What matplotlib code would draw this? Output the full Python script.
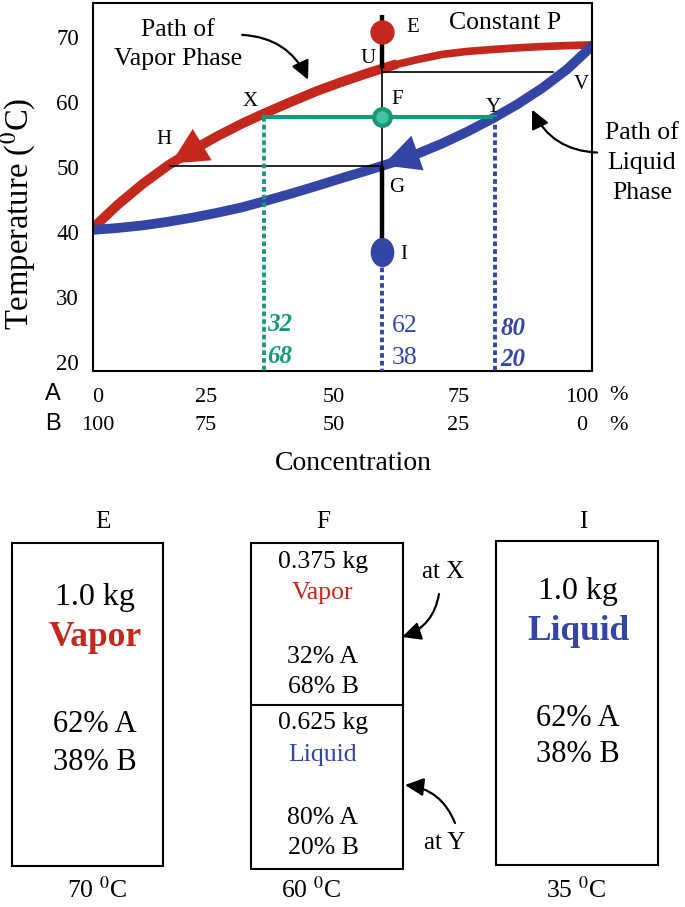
import matplotlib.pyplot as plt
import numpy as np
from matplotlib.markers import MarkerStyle
from matplotlib.patches import Rectangle
from matplotlib.transforms import Affine2D, ScaledTranslation

plt.rcParams['font.family'] = 'Liberation Serif'
plt.rcParams['mathtext.fontset'] = 'stix'

RED = '#c4281d'
BLUE = '#3445a6'
GREEN = '#16987a'
LIGHT_GREEN = '#45c29e'

# ---------------------------------------------------------------
# data
# ---------------------------------------------------------------
temp_ticks = [20, 30, 40, 50, 60, 70]
conc_a = [0, 25, 50, 75, 100]
conc_b = [100, 75, 50, 25, 0]

# vapor (dew point) curve and liquid (bubble point) curve
vap_x = [0, 5, 10, 15, 20, 25, 30, 35, 40, 45, 50, 55, 60, 65, 70, 75, 80, 85, 90, 95, 99.6]
vap_t = [40.6, 44.2, 47.4, 50.2, 52.6, 54.75, 56.7, 58.45, 60.1, 61.7, 63.1, 64.4,
         65.6, 66.5, 67.3, 67.75, 68.05, 68.3, 68.5, 68.65, 68.75]
liq_x = [0, 5, 10, 15, 20, 25, 30, 35, 40, 45, 50, 55, 60, 65, 70, 75, 80, 85, 90, 95, 99.6]
liq_t = [40.3, 40.6, 41.0, 41.55, 42.2, 42.95, 43.8, 44.85, 45.95, 47.1, 48.3, 49.45,
         50.65, 52.0, 53.6, 55.4, 57.4, 59.6, 62.1, 65.0, 68.3]

# state points
feed_x = 57.9
top_t, e_t, u_t, f_t, g_t, i_t = 73.4, 70.8, 65.2, 57.7, 50.2, 36.9
x_pt = (34.3, 57.7)
y_pt = (80.6, 57.7)
h_pt = (15.4, 50.2)
v_pt = (92.2, 64.6)
red_tip, red_tail = (15.6, 50.5), (24.0, 54.4)
blue_tip, blue_tail = (58.1, 50.25), (67.7, 52.85)

x_comp = ['32', '68']
feed_comp = ['62', '38']
y_comp = ['80', '20']

# bottom boxes
box_names = ['E', 'F', 'I']
box_temps = ['70', '60', '35']
e_lines = ['1.0 kg', 'Vapor', '62% A', '38% B']
f_lines = ['0.375 kg', 'Vapor', '32% A', '68% B', '0.625 kg', 'Liquid', '80% A', '20% B']
i_lines = ['1.0 kg', 'Liquid', '62% A', '38% B']

# ---------------------------------------------------------------
W, H = 685, 907
fig = plt.figure(figsize=(W / 100, H / 100), dpi=100)

ax = fig.add_axes([93 / W, 1 - 371 / H, 499 / W, 368 / H])
ybot = 18.6
ax.set_xlim(0, 100)
ax.set_ylim(ybot, 75.2)
for s in ax.spines.values():
    s.set_linewidth(1.5)

ax.set_yticks(temp_ticks)
ax.tick_params(axis='y', length=0, pad=10, labelsize=16.5)
ax.set_xticks(conc_a, labels=[f'{a}\n{b}' for a, b in zip(conc_a, conc_b)])
ax.tick_params(axis='x', length=0, pad=12.5, labelsize=16)
# the printed scale sits a little left of the true tick spots
shifts = [5, -12, -9, -9, -10]
for lbl, dx in zip(ax.get_xticklabels(), shifts):
    lbl.set_linespacing(1.65)
    lbl.set_transform(lbl.get_transform() + ScaledTranslation(dx / 100, 0, fig.dpi_scale_trans))

ax.set_xlabel('Concentration', fontsize=20)
ax.xaxis.set_label_coords((353 - 93) / 499, -(463 - 371) / 368)
ax.xaxis.label.set_va('center')
ax.set_ylabel('Temperature ($^0$C)', fontsize=23.5)
ax.yaxis.set_label_coords((18 - 93) / 499, (371 - 214) / 368)
ax.yaxis.label.set_va('center')

# curves
vx, vt = np.array(vap_x), np.array(vap_t)
lx, lt = np.array(liq_x), np.array(liq_t)
ax.plot(vx[vx >= 55], vt[vx >= 55], color=RED, lw=5.5, zorder=2)
ax.plot(vx[vx <= 60], vt[vx <= 60], color=RED, lw=7, zorder=2)
ax.plot(lx, lt, color=BLUE, lw=7, zorder=2)

arrow_head = '-|>,head_length=1.2,head_width=0.6'
ax.annotate('', xy=red_tip, xytext=red_tail,
            arrowprops=dict(arrowstyle=arrow_head, mutation_scale=22, color=RED,
                            lw=0, shrinkA=0, shrinkB=0), zorder=3)
ax.annotate('', xy=blue_tip, xytext=blue_tail,
            arrowprops=dict(arrowstyle=arrow_head, mutation_scale=22, color=BLUE,
                            lw=0, shrinkA=0, shrinkB=0), zorder=3)

# black construction lines
ax.plot([feed_x, feed_x], [top_t, u_t], color='k', lw=3.2, solid_capstyle='butt', zorder=3)
ax.plot([feed_x, feed_x], [u_t, g_t], color='k', lw=1.2, zorder=3)
ax.plot([feed_x, feed_x], [g_t, i_t], color='k', lw=3.2, solid_capstyle='butt', zorder=3)
ax.plot([h_pt[0], feed_x], [h_pt[1], h_pt[1]], color='k', lw=1.2, zorder=3)
ax.plot([feed_x, v_pt[0]], [v_pt[1], v_pt[1]], color='k', lw=1.2, zorder=3)

# tie line and drop lines
dots = (0, (1.2, 0.8))
ax.plot([x_pt[0], y_pt[0]], [f_t, f_t], color=GREEN, lw=3, zorder=4)
ax.plot([x_pt[0], x_pt[0]], [x_pt[1], ybot], color=GREEN, lw=2.8, ls=dots, zorder=4)
ax.plot([feed_x, feed_x], [i_t, ybot], color=BLUE, lw=2.8, ls=dots, zorder=4)
ax.plot([y_pt[0], y_pt[0]], [y_pt[1], ybot], color=BLUE, lw=2.8, ls=dots, zorder=4)

# state points
ax.plot(feed_x, e_t, 'o', ms=16.5, color=RED, zorder=5)
tall = MarkerStyle('o', transform=Affine2D().scale(1, 1.25))
ax.plot(feed_x, i_t, marker=tall, ms=16, color=BLUE, ls='none', zorder=5)
ax.plot(feed_x, f_t, 'o', ms=12, mfc=LIGHT_GREEN, mec=GREEN, mew=3, zorder=5)

for txt, px, py in [('E', 64.1, 71.5), ('U', 55.1, 66.6), ('F', 60.9, 60.3),
                    ('G', 60.9, 46.9), ('I', 62.3, 36.5), ('X', 31.5, 60.0),
                    ('H', 14.2, 54.2), ('Y', 80.2, 59.2), ('V', 97.8, 62.6)]:
    ax.text(px, py, txt, fontsize=15, ha='center', va='center', zorder=6)

ax.text(82.6, 72.2, 'Constant P', fontsize=18.5, ha='center', va='center')
ax.text(17.0, 68.8, 'Path of\nVapor Phase', fontsize=18.5, ha='center', va='center',
        linespacing=1.45)
ax.text(110.0, 50.6, 'Path of\nLiquid\nPhase', fontsize=18.5, ha='center', va='center',
        linespacing=1.45, clip_on=False)
ax.annotate('', xy=(43.1, 63.4), xytext=(29.9, 70.3),
            arrowprops=dict(arrowstyle='-|>,head_length=0.45,head_width=0.22',
                            mutation_scale=25, color='k', lw=1.6,
                            connectionstyle='arc3,rad=-0.3', shrinkA=0, shrinkB=0))
ax.annotate('', xy=(88.0, 58.8), xytext=(101.0, 52.2), annotation_clip=False,
            arrowprops=dict(arrowstyle='-|>,head_length=0.45,head_width=0.22',
                            mutation_scale=25, color='k', lw=1.6,
                            connectionstyle='arc3,rad=-0.3', shrinkA=0, shrinkB=0))

bi = dict(fontsize=18, fontweight='bold', style='italic', ha='left', va='center')
ax.text(x_pt[0] + 0.6, 25.8, x_comp[0], color=GREEN, **bi)
ax.text(x_pt[0] + 0.6, 20.8, x_comp[1], color=GREEN, **bi)
ax.text(feed_x + 2.0, 25.5, feed_comp[0], color=BLUE, fontsize=18.5, ha='left', va='center')
ax.text(feed_x + 2.0, 20.6, feed_comp[1], color=BLUE, fontsize=18.5, ha='left', va='center')
ax.text(y_pt[0] + 1.0, 25.2, y_comp[0], color=BLUE, **bi)
ax.text(y_pt[0] + 1.0, 20.3, y_comp[1], color=BLUE, **bi)

# row names and percent signs beside the concentration scale
def fig_xy(x, y):
    return x / W, 1 - y / H

fig.text(*fig_xy(53, 394), 'A', family='Liberation Sans', fontsize=17, ha='center', va='center')
fig.text(*fig_xy(53, 424), 'B', family='Liberation Sans', fontsize=17, ha='center', va='center')
fig.text(*fig_xy(619, 395), '%', fontsize=16, ha='center', va='center')
fig.text(*fig_xy(619, 425), '%', fontsize=16, ha='center', va='center')

# ---------------------------------------------------------------
# mass balance boxes (pixel layout)
# ---------------------------------------------------------------
lay = fig.add_axes([0, 0, 1, 1], zorder=-1)
lay.set_xlim(0, W)
lay.set_ylim(H, 0)
lay.axis('off')

for x0, y0, w, h in [(12, 543, 151, 323), (251, 543, 152, 326), (496, 541, 162, 324)]:
    lay.add_patch(Rectangle((x0, y0), w, h, fill=False, lw=1.5, ec='k'))
lay.plot([251, 403], [705, 705], color='k', lw=1.5)

for name, temp, xn, xt in zip(box_names, box_temps, [103, 323, 583], [97, 311, 576]):
    lay.text(xn, 522, name, fontsize=18, ha='center', va='center')
    lay.text(xt, 890, f'{temp} $^0$C', fontsize=18.5, ha='center', va='center')

big = [(23, 'normal', 'k'), (25.5, 'bold', RED), (22, 'normal', 'k'), (22, 'normal', 'k')]
for txt, yy, (fs, fw, c) in zip(e_lines, [598, 638, 725, 762], big):
    lay.text(95, yy, txt, fontsize=fs, fontweight=fw, color=c, ha='center', va='center')
big[1] = (25.5, 'bold', BLUE)
for txt, yy, (fs, fw, c) in zip(i_lines, [592, 632, 718, 755], big):
    lay.text(578, yy, txt, fontsize=fs, fontweight=fw, color=c, ha='center', va='center')

f_cols = ['k', RED, 'k', 'k', 'k', BLUE, 'k', 'k']
for txt, yy, c in zip(f_lines, [562, 593, 657, 687, 723, 755, 818, 848], f_cols):
    lay.text(323, yy, txt, fontsize=18.5, color=c, ha='center', va='center')

lay.text(443, 572, 'at X', fontsize=18, ha='center', va='center')
lay.text(445, 843, 'at Y', fontsize=18, ha='center', va='center')
small_head = dict(arrowstyle='-|>,head_length=0.45,head_width=0.22', mutation_scale=25,
                  color='k', lw=1.6, shrinkA=0, shrinkB=0)
lay.annotate('', xy=(402, 637), xytext=(439, 594),
             arrowprops=dict(connectionstyle='arc3,rad=-0.3', **small_head))
lay.annotate('', xy=(405, 785), xytext=(455, 823),
             arrowprops=dict(connectionstyle='arc3,rad=0.3', **small_head))

fig.savefig('out.png', dpi=100)
